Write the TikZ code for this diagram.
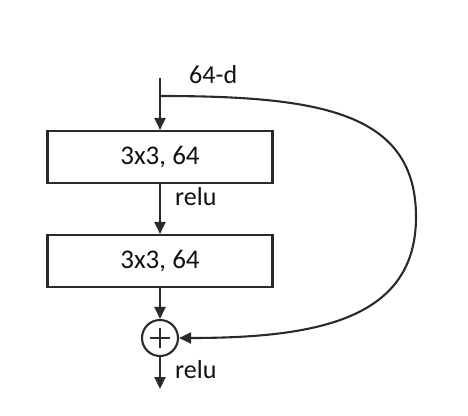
\documentclass[tikz,border=0pt]{standalone}
\usepackage{fontspec}
\setmainfont{Carlito}
\usetikzlibrary{arrows.meta}
\definecolor{ln}{HTML}{2A2A2A}
\definecolor{tx}{HTML}{111111}
\tikzset{
  arr/.style={draw=ln, line width=2.1pt, -{Triangle[length=12pt,width=11pt]}},
  ln/.style={draw=ln, line width=2.1pt},
  layerbox/.style={draw=ln, line width=2.1pt, minimum width=225pt, minimum height=52pt, inner sep=0pt, font=\fontsize{27}{30}\selectfont, text=tx},
  lbl/.style={font=\fontsize{26}{30}\selectfont, text=tx, inner sep=0pt},
  plusnode/.style={draw=ln, line width=2.1pt, circle, minimum size=36pt, inner sep=0pt,
    path picture={\draw[ln] ([xshift=-10pt]path picture bounding box.center) -- ([xshift=10pt]path picture bounding box.center);
                  \draw[ln] ([yshift=-10pt]path picture bounding box.center) -- ([yshift=10pt]path picture bounding box.center);}}
}
\begin{document}
\begin{tikzpicture}[x=1pt,y=-1pt]
\useasboundingbox (0,0) rectangle (468,415);
\coordinate (in) at (160,78);
\coordinate (br) at (160,96);
\coordinate (out) at (160,389);
\node[layerbox] (b1) at (160,157) {3x3, 64};
\node[layerbox] (b2) at (160,261) {3x3, 64};
\node[plusnode] (p) at (160,338) {};
\node[lbl, anchor=west] (l0) at (189,75) {64-d};
\node[lbl, anchor=west] (l1) at (175,197) {relu};
\node[lbl, anchor=west] (l2) at (175,370) {relu};
\draw[arr] (in) -- (b1.north);
\draw[arr] (b1.south) -- (b2.north);
\draw[arr] (b2.south) -- (p.north);
\draw[arr] (p.south) -- (out);
\draw[arr] (br) .. controls (320,96) and (416,112) .. (416,217)
                .. controls (416,318) and (320,338) .. (p.east);
\end{tikzpicture}
\end{document}
